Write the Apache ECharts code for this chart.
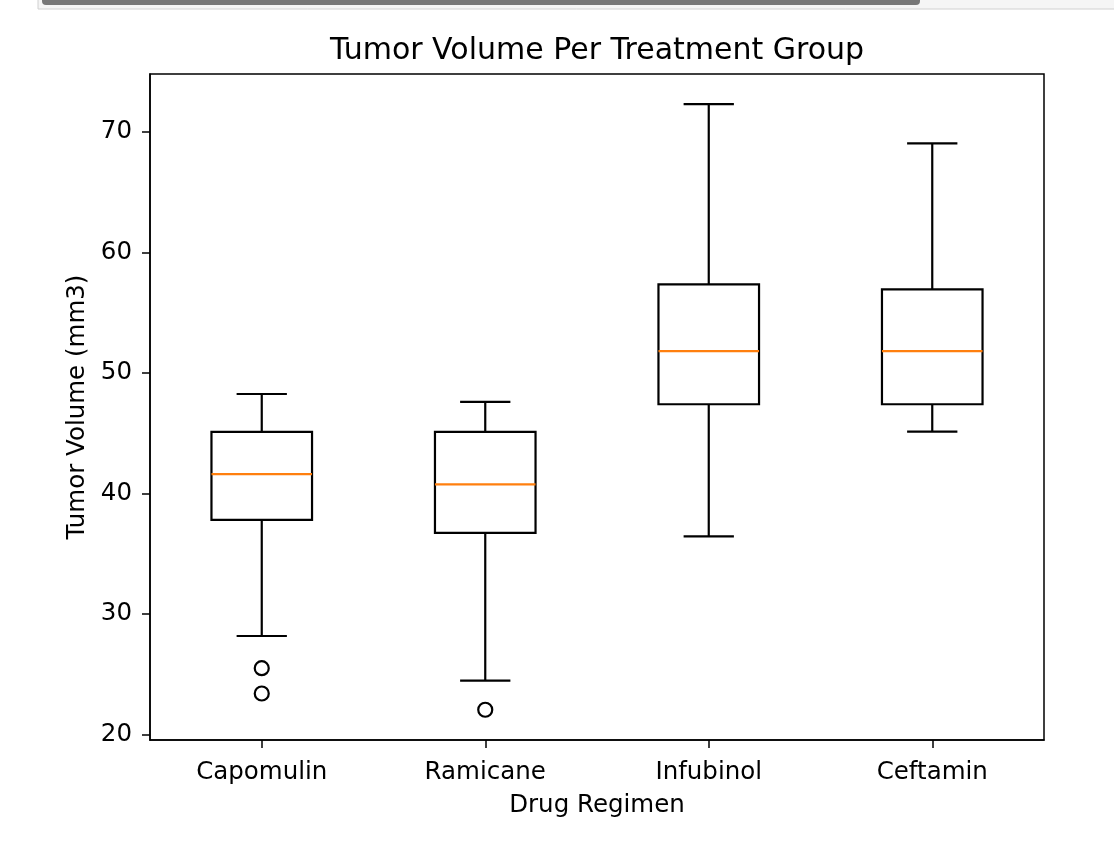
<!DOCTYPE html>
<html>
<head>
<meta charset="utf-8">
<script src="https://cdn.jsdelivr.net/npm/echarts@6/dist/echarts.min.js"></script>
<style>
html,body{margin:0;padding:0;background:#fff;}
#chart{width:1114px;height:842px;}
</style>
</head>
<body>
<div id="chart"></div>
<script>
const categories = ['Capomulin', 'Ramicane', 'Infubinol', 'Ceftamin'];
const whiskerLow = [28.17, 24.46, 36.43, 45.13];
const q1 = [37.8, 36.73, 47.4, 47.4];
const median = [41.6, 40.75, 51.8, 51.8];
const q3 = [45.1, 45.1, 57.35, 56.93];
const whiskerHigh = [48.25, 47.6, 72.3, 69.04];
const outliers = [[0, 25.5], [0, 23.4], [1, 22.05]];
const yTicks = [20, 30, 40, 50, 60, 70];

const boxData = categories.map((c, i) => [i, whiskerLow[i], q1[i], median[i], q3[i], whiskerHigh[i]]);

const FONT = 'DejaVu Sans';
const FS = 24.5;
const chart = echarts.init(document.getElementById('chart'), null, {renderer: 'canvas'});

function renderBox(params, api) {
  const idx = api.value(0);
  const band = api.size([1, 0])[0];
  const bw = band * 0.45;
  const cw = bw / 2;
  const pLow = api.coord([idx, api.value(1)]);
  const pQ1 = api.coord([idx, api.value(2)]);
  const pMed = api.coord([idx, api.value(3)]);
  const pQ3 = api.coord([idx, api.value(4)]);
  const pHigh = api.coord([idx, api.value(5)]);
  const x = pQ1[0];
  const lineStyle = {stroke: '#000', lineWidth: 2.2, fill: null};
  return {
    type: 'group',
    children: [
      {type: 'rect', shape: {x: x - bw / 2, y: pQ3[1], width: bw, height: pQ1[1] - pQ3[1]}, style: {stroke: '#000', lineWidth: 2.2, fill: 'none'}},
      {type: 'line', shape: {x1: x, y1: pQ1[1], x2: x, y2: pLow[1]}, style: lineStyle},
      {type: 'line', shape: {x1: x, y1: pQ3[1], x2: x, y2: pHigh[1]}, style: lineStyle},
      {type: 'line', shape: {x1: x - cw / 2, y1: pLow[1], x2: x + cw / 2, y2: pLow[1]}, style: lineStyle},
      {type: 'line', shape: {x1: x - cw / 2, y1: pHigh[1], x2: x + cw / 2, y2: pHigh[1]}, style: lineStyle},
      {type: 'line', shape: {x1: x - bw / 2, y1: pMed[1], x2: x + bw / 2, y2: pMed[1]}, style: {stroke: '#ff7f0e', lineWidth: 2.2}}
    ]
  };
}

const option = {
  backgroundColor: '#fff',
  animation: false,
  textStyle: {fontFamily: FONT},
  title: {
    text: 'Tumor Volume Per Treatment Group',
    left: 592,
    textAlign: 'center',
    top: 31,
    textStyle: {fontFamily: FONT, fontSize: 30, fontWeight: 'normal', color: '#000'}
  },
  graphic: [
    {type: 'rect', shape: {x: 38, y: -6, width: 1100, height: 15}, style: {fill: '#f5f5f5', stroke: '#d0d0d0', lineWidth: 1}, z: 10},
    {type: 'rect', shape: {x: 42, y: -6, width: 878, height: 11, r: 4}, style: {fill: '#777777'}, z: 11}
  ],
  grid: {left: 150, right: 70, top: 74, bottom: 102, show: true, borderColor: '#000', borderWidth: 1.5, backgroundColor: 'transparent'},
  xAxis: {
    type: 'category',
    data: categories,
    name: 'Drug Regimen',
    nameLocation: 'middle',
    nameGap: 53,
    nameTextStyle: {fontFamily: FONT, fontSize: FS, color: '#000'},
    axisLine: {show: true, lineStyle: {color: '#000', width: 1.5}},
    axisTick: {show: true, alignWithLabel: true, length: 8, lineStyle: {color: '#000', width: 1.5}},
    axisLabel: {fontFamily: FONT, fontSize: FS, color: '#000', margin: 20},
    splitLine: {show: false}
  },
  yAxis: {
    type: 'value',
    min: 19.54,
    max: 74.8,
    name: 'Tumor Volume (mm3)',
    nameLocation: 'middle',
    nameGap: 57,
    nameTextStyle: {fontFamily: FONT, fontSize: FS, color: '#000'},
    axisLine: {show: true, lineStyle: {color: '#000', width: 1.5}},
    axisTick: {show: true, length: 8, customValues: yTicks, lineStyle: {color: '#000', width: 1.5}},
    axisLabel: {fontFamily: FONT, fontSize: FS, color: '#000', margin: 18, customValues: yTicks, padding: [5, 0, 0, 0]},
    splitLine: {show: false}
  },
  series: [
    {
      type: 'custom',
      renderItem: renderBox,
      data: boxData,
      encode: {x: 0, y: [1, 2, 3, 4, 5]},
      z: 3
    },
    {
      type: 'scatter',
      data: outliers,
      symbol: 'circle',
      symbolSize: 14,
      itemStyle: {color: 'rgba(0,0,0,0)', borderColor: '#000', borderWidth: 2.2, opacity: 1},
      z: 4
    }
  ]
};
chart.setOption(option);
</script>
</body>
</html>
